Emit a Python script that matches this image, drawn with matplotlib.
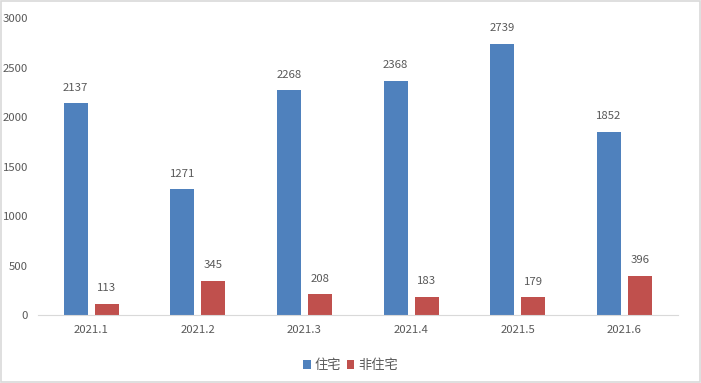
import numpy as np
import matplotlib
matplotlib.use('Agg')
import matplotlib.pyplot as plt
from matplotlib.patches import Rectangle

plt.rcParams['font.family'] = ['Noto Sans CJK SC', 'DejaVu Sans']

months = ['2021.1', '2021.2', '2021.3', '2021.4', '2021.5', '2021.6']
residential = [2137, 1271, 2268, 2368, 2739, 1852]
non_residential = [113, 345, 208, 183, 179, 396]

blue = '#4F81BD'
red = '#C0504D'
txt = '#595959'

fig = plt.figure(figsize=(7.01, 3.83), dpi=100)
ax = fig.add_axes([0.054, 0.1775, 0.913, 0.7755])

x = np.arange(len(months))
w = 0.225
off = 0.145
b1 = ax.bar(x - off, residential, w, color=blue, label='住宅')
b2 = ax.bar(x + off, non_residential, w, color=red, label='非住宅')

for bars, vals in ((b1, residential), (b2, non_residential)):
    for r, v in zip(bars, vals):
        ax.annotate(str(v), (r.get_x() + r.get_width() / 2, v),
                    xytext=(0, 7.5), textcoords='offset points',
                    ha='center', va='bottom', fontsize=8.2, color=txt)

ax.set_xlim(-0.5, len(months) - 0.5)
ax.set_ylim(0, 3000)
ax.set_yticks(range(0, 3001, 500))
ax.set_xticks(x)
ax.set_xticklabels(months)
ax.tick_params(axis='both', length=0, labelsize=8.2, colors=txt)
ax.tick_params(axis='y', pad=7)
ax.tick_params(axis='x', pad=7)
for s in ['top', 'right', 'left']:
    ax.spines[s].set_visible(False)
ax.spines['bottom'].set_color('#D9D9D9')

fig.legend(handles=[b1, b2], loc='center', bbox_to_anchor=(0.5, 0.045),
           ncol=2, frameon=False, fontsize=9.5, handlelength=0.6,
           handleheight=0.6, handletextpad=0.3, columnspacing=0.4,
           labelcolor=txt)

fig.patches.append(Rectangle((0.001, 0.002), 0.997, 0.995, transform=fig.transFigure,
                             fill=False, edgecolor='#D9D9D9', linewidth=1.2))

fig.savefig('out.png', dpi=100)
